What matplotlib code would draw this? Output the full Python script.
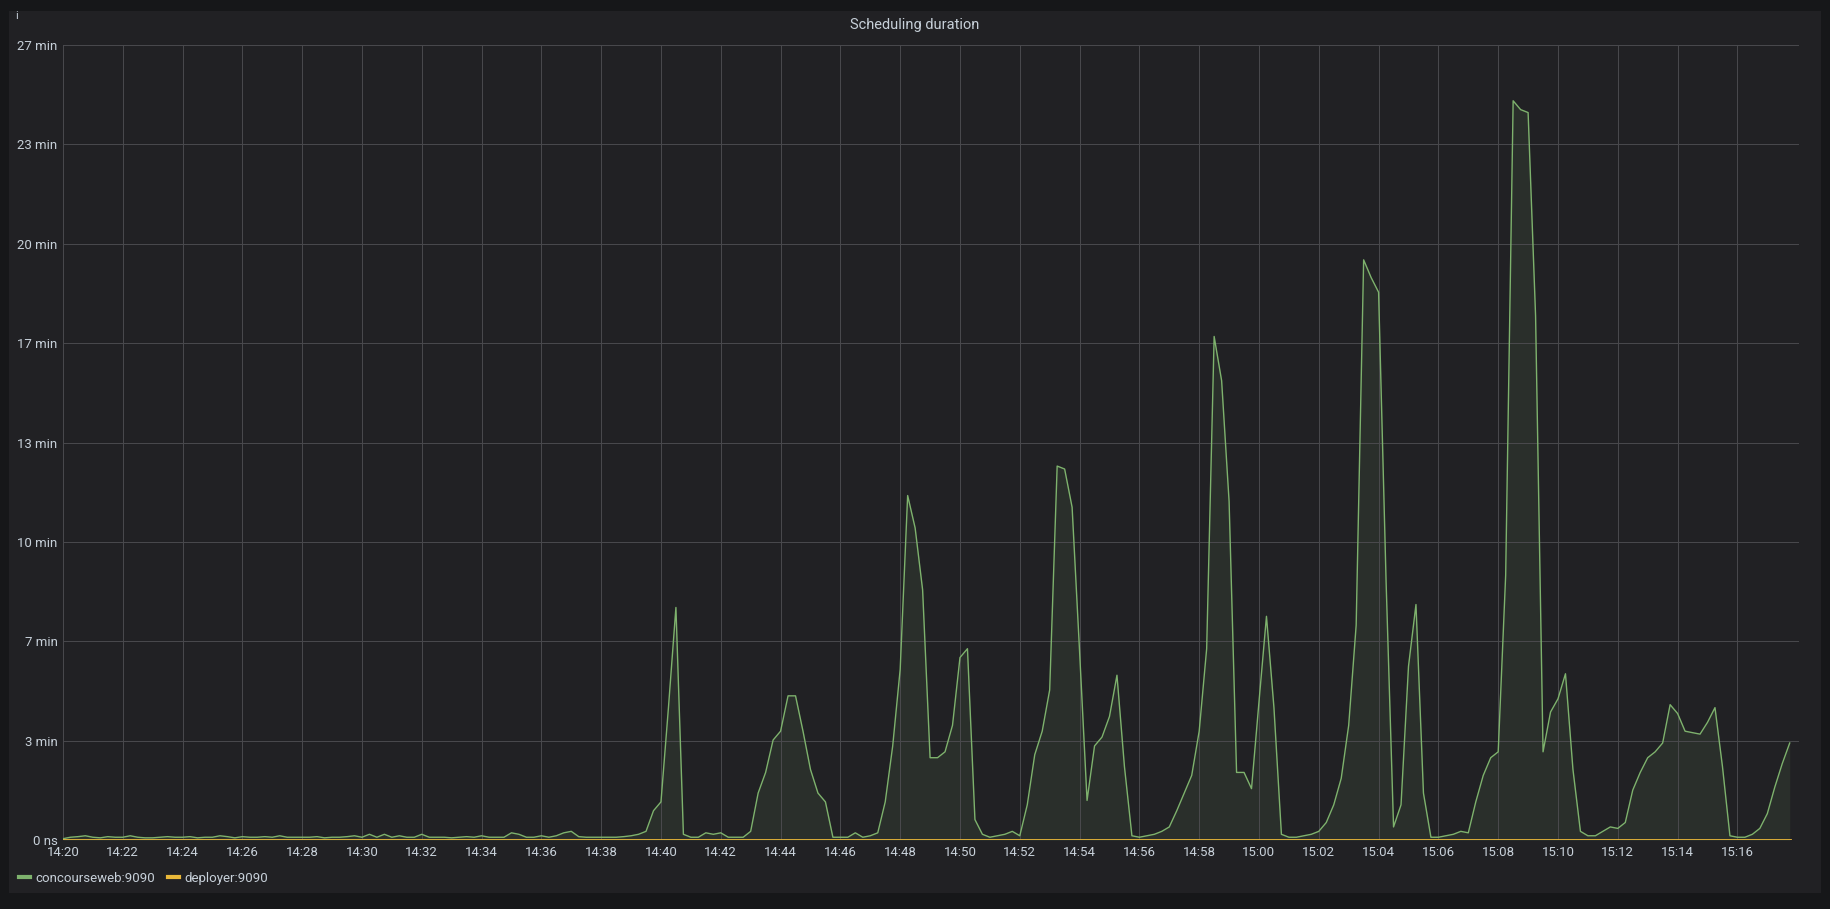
import matplotlib.pyplot as plt
import numpy as np
from matplotlib.patches import Rectangle

plt.rcParams['font.family'] = ['Roboto', 'DejaVu Sans']

# sampled every 15 s starting at 14:20, values in minutes
concourse_flat = [
    0.05, 0.1, 0.12, 0.15, 0.1, 0.08, 0.12, 0.1, 0.1, 0.15, 0.1, 0.08,
    0.08, 0.1, 0.12, 0.1, 0.1, 0.12, 0.08, 0.1, 0.1, 0.15, 0.12, 0.08,
    0.12, 0.1, 0.1, 0.12, 0.1, 0.15, 0.1, 0.1, 0.1, 0.1, 0.12, 0.08,
    0.1, 0.1, 0.12, 0.15, 0.1, 0.2, 0.1, 0.2, 0.1, 0.15, 0.1, 0.1,
    0.2, 0.1, 0.1, 0.1, 0.08, 0.1, 0.12, 0.1, 0.15, 0.1, 0.1, 0.1,
    0.25, 0.2, 0.1, 0.1, 0.15, 0.1, 0.15, 0.25, 0.3, 0.12, 0.1, 0.1,
    0.1, 0.1, 0.1, 0.12, 0.15, 0.2,
]
concourse_active = [
    0.3, 1.0, 1.3, 4.5, 7.9, 0.2, 0.1, 0.1, 0.25, 0.2, 0.25, 0.1,
    0.1, 0.1, 0.3, 1.6, 2.3, 3.4, 3.7, 4.9, 4.9, 3.7, 2.4, 1.6,
    1.3, 0.1, 0.1, 0.1, 0.25, 0.1, 0.15, 0.25, 1.3, 3.2, 5.8, 11.7,
    10.6, 8.5, 2.8, 2.8, 3.0, 3.9, 6.2, 6.5, 0.7, 0.2, 0.1, 0.15,
    0.2, 0.3, 0.15, 1.2, 2.9, 3.7, 5.1, 12.7, 12.6, 11.3, 6.4, 1.35,
    3.2, 3.5, 4.2, 5.6, 2.5, 0.15, 0.1, 0.15, 0.2, 0.3, 0.45, 1.0,
    1.6, 2.2, 3.7, 6.5, 17.1, 15.6, 11.5, 2.3, 2.3, 1.75, 4.7, 7.6,
    4.5, 0.2, 0.1, 0.1, 0.15, 0.2, 0.3, 0.6, 1.2, 2.1, 3.9, 7.3,
    19.7, 19.1, 18.6, 8.8, 0.45, 1.2, 5.9, 8.0, 1.6, 0.1, 0.1, 0.15,
    0.2, 0.3, 0.25, 1.3, 2.2, 2.8, 3.0, 9.0, 25.1, 24.8, 24.7, 17.8,
    3.0, 4.35, 4.8, 5.65, 2.4, 0.3, 0.15, 0.15, 0.3, 0.45, 0.4, 0.6,
    1.7, 2.3, 2.8, 3.0, 3.3, 4.6, 4.3, 3.7, 3.65, 3.6, 4.0, 4.5,
    2.5, 0.15, 0.1, 0.1, 0.2, 0.4, 0.9, 1.8, 2.6, 3.3,
]
concourse = concourse_flat + concourse_active
deployer = [0.0] * len(concourse)

y_labels = ["0 ns", "3 min", "7 min", "10 min", "13 min", "17 min", "20 min", "23 min", "27 min"]
x_labels = ["14:%02d" % m for m in range(20, 60, 2)] + ["15:%02d" % m for m in range(0, 18, 2)]

fg = "#c7d0d9"
grid = "#4a4a4e"

fig = plt.figure(figsize=(18.3, 9.09), dpi=100, facecolor="#161719")
fig.patches.append(Rectangle((0.005, 0.018), 0.99, 0.97, transform=fig.transFigure,
                             facecolor="#212124", edgecolor="none", zorder=-1))
ax = fig.add_axes([0.0344, 0.0757, 0.9485, 0.875])
ax.set_facecolor("#212124")

t = np.arange(len(concourse)) * 0.25
ax.plot(t, concourse, color="#7eb26d", lw=1.0, label="concourseweb:9090")
ax.fill_between(t, concourse, color="#7eb26d", alpha=0.1, lw=0)
ax.plot(t, deployer, color="#eab839", lw=2.0, label="deployer:9090")

ax.set_xlim(0, 58.05)
ax.set_ylim(0, 27)
ax.set_yticks(np.arange(9) * 3.375)
ax.set_yticklabels(y_labels)
ax.set_xticks(np.arange(len(x_labels)) * 2)
ax.set_xticklabels(x_labels)
ax.tick_params(colors=fg, labelsize=9.5, length=0, pad=4)
ax.grid(True, color=grid, lw=0.7)
for s in ax.spines.values():
    s.set_visible(False)

fig.text(0.5, 0.972, "Scheduling duration", color=fg, ha="center", va="center", fontsize=10.5)
fig.text(0.009, 0.982, "i", color=fg, fontsize=8, ha="center", va="center")
leg = ax.legend(loc="upper left", bbox_to_anchor=(-0.032, -0.025), ncol=2, frameon=False,
                labelcolor=fg, fontsize=9.5, handlelength=0.8, handletextpad=0.4, columnspacing=1.0)
for h in leg.get_lines():
    h.set_linewidth(3)

fig.savefig("out.png", dpi=100, facecolor=fig.get_facecolor())
